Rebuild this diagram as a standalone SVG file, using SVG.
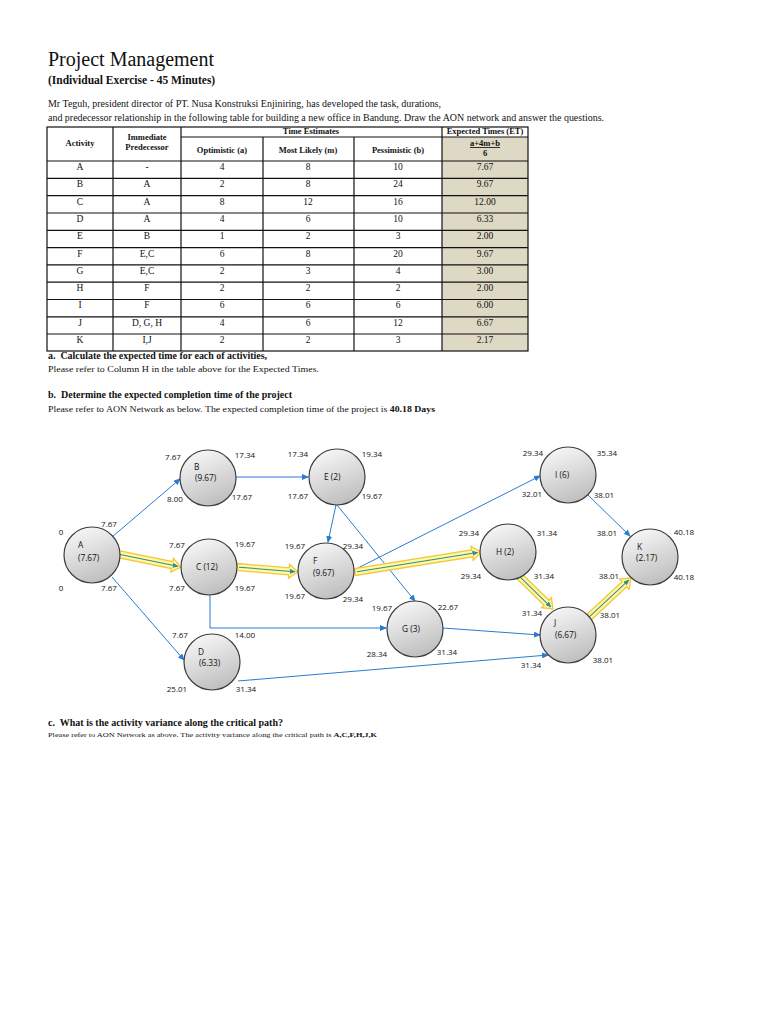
<svg xmlns="http://www.w3.org/2000/svg" width="768" height="1024" viewBox="0 0 768 1024">
<style>
.serif{font-family:"Liberation Serif","Times New Roman",serif;fill:#111}
.b{font-weight:bold}
.hd{font-family:"Liberation Serif",serif;font-size:8.5px;font-weight:bold;fill:#111;text-anchor:middle}
.td{font-family:"Liberation Serif",serif;font-size:9.5px;fill:#111;text-anchor:middle}
.grid{stroke:#111;stroke-width:1.2;fill:none}
.num{font-family:"Open Sans","Liberation Sans",sans-serif;font-size:8px;fill:#111;text-anchor:middle}
.lbl{font-family:"Open Sans","Liberation Sans",sans-serif;font-size:8.3px;fill:#111}
.node{fill:url(#ng);stroke:#3c3c3c;stroke-width:1.2}
.con{stroke:#2a7bd2;stroke-width:1;fill:none;marker-end:url(#ab)}
.blk{fill:#fff8a6;stroke:#f2c73a;stroke-width:1.3}
.tl{stroke:#2f8f86;stroke-width:1;fill:none;marker-end:url(#at)}
</style>
<defs>
<linearGradient id="ng" x1="0.3" y1="0" x2="0.7" y2="1">
<stop offset="0" stop-color="#f7f7f7"/>
<stop offset="1" stop-color="#bcbcbc"/>
</linearGradient>
<marker id="ab" markerWidth="7" markerHeight="6" refX="6" refY="3" orient="auto" markerUnits="userSpaceOnUse">
<path d="M0,0 L7,3 L0,6 Z" fill="#2a7bd2"/>
</marker>
<marker id="at" markerWidth="6" markerHeight="5" refX="5" refY="2.5" orient="auto" markerUnits="userSpaceOnUse">
<path d="M0,0 L6,2.5 L0,5 Z" fill="#2f8f86"/>
</marker>
</defs>
<rect width="768" height="1024" fill="#fff"/>

<text class="serif" x="48" y="66" font-size="20">Project Management</text>
<text class="serif b" x="48" y="84" font-size="11.5">(Individual Exercise - 45 Minutes)</text>
<text class="serif" x="48" y="107" font-size="9.5" textLength="393" lengthAdjust="spacingAndGlyphs">Mr Teguh, president director of PT. Nusa Konstruksi Enjiniring, has developed the task, durations,</text>
<text class="serif" x="48" y="121" font-size="9.5" textLength="556" lengthAdjust="spacingAndGlyphs">and predecessor relationship in the following table for building a new office in Bandung. Draw the AON network and answer the questions.</text>

<g id="table">
<rect x="442" y="137" width="86" height="214" fill="#ddd9c4"/>
<rect x="47" y="127" width="481" height="224" class="grid"/>
<line class="grid" x1="181" y1="137" x2="528" y2="137"/>
<line class="grid" x1="47" y1="161" x2="528" y2="161"/>
<line class="grid" x1="47" y1="178.3" x2="528" y2="178.3"/>
<line class="grid" x1="47" y1="195.6" x2="528" y2="195.6"/>
<line class="grid" x1="47" y1="213" x2="528" y2="213"/>
<line class="grid" x1="47" y1="230.3" x2="528" y2="230.3"/>
<line class="grid" x1="47" y1="247.6" x2="528" y2="247.6"/>
<line class="grid" x1="47" y1="264.9" x2="528" y2="264.9"/>
<line class="grid" x1="47" y1="282.2" x2="528" y2="282.2"/>
<line class="grid" x1="47" y1="299.5" x2="528" y2="299.5"/>
<line class="grid" x1="47" y1="316.8" x2="528" y2="316.8"/>
<line class="grid" x1="47" y1="334" x2="528" y2="334"/>
<line class="grid" x1="113" y1="127" x2="113" y2="351"/>
<line class="grid" x1="181" y1="127" x2="181" y2="351"/>
<line class="grid" x1="263" y1="137" x2="263" y2="351"/>
<line class="grid" x1="354" y1="137" x2="354" y2="351"/>
<line class="grid" x1="442" y1="127" x2="442" y2="351"/>
<text class="hd" x="80" y="146">Activity</text>
<text class="hd" x="147" y="140">Immediate</text>
<text class="hd" x="147" y="150">Predecessor</text>
<text class="hd" x="311" y="134">Time Estimates</text>
<text class="hd" x="485" y="134">Expected Times (ET)</text>
<text class="hd" x="485" y="146" text-decoration="underline">a+4m+b</text>
<text class="hd" x="485" y="156">6</text>
<text class="hd" x="222" y="153">Optimistic (a)</text>
<text class="hd" x="308" y="153">Most Likely (m)</text>
<text class="hd" x="398" y="153">Pessimistic (b)</text>
<g class="rows">
<text class="td" x="80" y="170">A</text><text class="td" x="147" y="170">-</text><text class="td" x="222" y="170">4</text><text class="td" x="308" y="170">8</text><text class="td" x="398" y="170">10</text><text class="td" x="485" y="170">7.67</text>
<text class="td" x="80" y="187.3">B</text><text class="td" x="147" y="187.3">A</text><text class="td" x="222" y="187.3">2</text><text class="td" x="308" y="187.3">8</text><text class="td" x="398" y="187.3">24</text><text class="td" x="485" y="187.3">9.67</text>
<text class="td" x="80" y="204.6">C</text><text class="td" x="147" y="204.6">A</text><text class="td" x="222" y="204.6">8</text><text class="td" x="308" y="204.6">12</text><text class="td" x="398" y="204.6">16</text><text class="td" x="485" y="204.6">12.00</text>
<text class="td" x="80" y="221.9">D</text><text class="td" x="147" y="221.9">A</text><text class="td" x="222" y="221.9">4</text><text class="td" x="308" y="221.9">6</text><text class="td" x="398" y="221.9">10</text><text class="td" x="485" y="221.9">6.33</text>
<text class="td" x="80" y="239.2">E</text><text class="td" x="147" y="239.2">B</text><text class="td" x="222" y="239.2">1</text><text class="td" x="308" y="239.2">2</text><text class="td" x="398" y="239.2">3</text><text class="td" x="485" y="239.2">2.00</text>
<text class="td" x="80" y="256.5">F</text><text class="td" x="147" y="256.5">E,C</text><text class="td" x="222" y="256.5">6</text><text class="td" x="308" y="256.5">8</text><text class="td" x="398" y="256.5">20</text><text class="td" x="485" y="256.5">9.67</text>
<text class="td" x="80" y="273.8">G</text><text class="td" x="147" y="273.8">E,C</text><text class="td" x="222" y="273.8">2</text><text class="td" x="308" y="273.8">3</text><text class="td" x="398" y="273.8">4</text><text class="td" x="485" y="273.8">3.00</text>
<text class="td" x="80" y="291.1">H</text><text class="td" x="147" y="291.1">F</text><text class="td" x="222" y="291.1">2</text><text class="td" x="308" y="291.1">2</text><text class="td" x="398" y="291.1">2</text><text class="td" x="485" y="291.1">2.00</text>
<text class="td" x="80" y="308.4">I</text><text class="td" x="147" y="308.4">F</text><text class="td" x="222" y="308.4">6</text><text class="td" x="308" y="308.4">6</text><text class="td" x="398" y="308.4">6</text><text class="td" x="485" y="308.4">6.00</text>
<text class="td" x="80" y="325.7">J</text><text class="td" x="147" y="325.7">D, G, H</text><text class="td" x="222" y="325.7">4</text><text class="td" x="308" y="325.7">6</text><text class="td" x="398" y="325.7">12</text><text class="td" x="485" y="325.7">6.67</text>
<text class="td" x="80" y="343">K</text><text class="td" x="147" y="343">I,J</text><text class="td" x="222" y="343">2</text><text class="td" x="308" y="343">2</text><text class="td" x="398" y="343">3</text><text class="td" x="485" y="343">2.17</text>
</g>
</g>

<text class="serif b" x="48" y="359" font-size="9.5" xml:space="preserve" textLength="219" lengthAdjust="spacingAndGlyphs">a.  Calculate the expected time for each of activities,</text>
<text class="serif" x="48" y="372" font-size="9" textLength="271" lengthAdjust="spacingAndGlyphs">Please refer to Column H in the table above for the Expected Times.</text>
<text class="serif b" x="48" y="398" font-size="9.5" xml:space="preserve" textLength="244" lengthAdjust="spacingAndGlyphs">b.  Determine the expected completion time of the project</text>
<text class="serif" x="48" y="412" font-size="9" textLength="387" lengthAdjust="spacingAndGlyphs">Please refer to AON Network as below. The expected completion time of the project is <tspan class="b">40.18 Days</tspan></text>

<g id="connectors">
<path class="con" d="M112,537 L180,479"/>
<path class="con" d="M236,477 L308,477"/>
<path class="con" d="M112,577 L184,660"/>
<path class="con" d="M210,595 V628 H386"/>
<path class="con" d="M336,505 L328,542"/>
<path class="con" d="M337,505 L415,601"/>
<path class="con" d="M356,569 L540,476"/>
<path class="con" d="M588,495 L630,536"/>
<path class="con" d="M443,628 L540,635"/>
<path class="con" d="M238,681 L548,655"/>
<g transform="translate(118,554) rotate(11.66)"><path class="blk" d="M0,-3.5 H55.3 V-7 L64.3,0 L55.3,7 V3.5 H0 Z"/><path class="tl" d="M2,0 H61"/></g>
<g transform="translate(237,567) rotate(4.69)"><path class="blk" d="M0,-3.5 H52.2 V-7 L61.2,0 L52.2,7 V3.5 H0 Z"/><path class="tl" d="M2,0 H58"/></g>
<g transform="translate(355,572) rotate(-9.02)"><path class="blk" d="M0,-3.5 H118.6 V-7 L127.6,0 L118.6,7 V3.5 H0 Z"/><path class="tl" d="M2,0 H124"/></g>
<g transform="translate(517,574) rotate(44.2)"><path class="blk" d="M0,-3.5 H41.2 V-7 L50.2,0 L41.2,7 V3.5 H0 Z"/><path class="tl" d="M2,0 H47"/></g>
<g transform="translate(587,619) rotate(-42.98)"><path class="blk" d="M0,-3.5 H51.1 V-7 L60.1,0 L51.1,7 V3.5 H0 Z"/><path class="tl" d="M2,0 H57"/></g>
</g>

<g id="node-A"><circle class="node" cx="92" cy="555" r="28"/><text class="lbl" x="78" y="548">A</text><text class="lbl" x="78" y="561">(7.67)</text>
<text class="num" x="61" y="535">0</text><text class="num" x="109" y="527">7.67</text><text class="num" x="61" y="591">0</text><text class="num" x="109" y="591">7.67</text></g>
<g id="node-B"><circle class="node" cx="208" cy="478" r="28"/><text class="lbl" x="194" y="470">B</text><text class="lbl" x="195" y="481">(9.67)</text>
<text class="num" x="173" y="460">7.67</text><text class="num" x="245" y="458">17.34</text><text class="num" x="175" y="502">8.00</text><text class="num" x="242" y="500">17.67</text></g>
<g id="node-C"><circle class="node" cx="209" cy="567" r="28"/><text class="lbl" x="196" y="570">C (12)</text>
<text class="num" x="177" y="548">7.67</text><text class="num" x="245" y="547">19.67</text><text class="num" x="177" y="591">7.67</text><text class="num" x="245" y="591">19.67</text></g>
<g id="node-D"><circle class="node" cx="212" cy="662" r="28"/><text class="lbl" x="198" y="655">D</text><text class="lbl" x="199" y="666">(6.33)</text>
<text class="num" x="180" y="638">7.67</text><text class="num" x="245" y="638">14.00</text><text class="num" x="177" y="692">25.01</text><text class="num" x="246" y="692">31.34</text></g>
<g id="node-E"><circle class="node" cx="337" cy="477" r="28"/><text class="lbl" x="324" y="480">E (2)</text>
<text class="num" x="298" y="457">17.34</text><text class="num" x="372" y="457">19.34</text><text class="num" x="298" y="499">17.67</text><text class="num" x="372" y="499">19.67</text></g>
<g id="node-F"><circle class="node" cx="326" cy="571" r="28"/><text class="lbl" x="313" y="564">F</text><text class="lbl" x="313" y="576">(9.67)</text>
<text class="num" x="295" y="549">19.67</text><text class="num" x="353" y="549">29.34</text><text class="num" x="295" y="599">19.67</text><text class="num" x="353" y="602">29.34</text></g>
<g id="node-G"><circle class="node" cx="415" cy="629" r="28"/><text class="lbl" x="402" y="632">G (3)</text>
<text class="num" x="382" y="611">19.67</text><text class="num" x="448" y="610">22.67</text><text class="num" x="377" y="657">28.34</text><text class="num" x="447" y="655">31.34</text></g>
<g id="node-H"><circle class="node" cx="508" cy="552" r="28"/><text class="lbl" x="496" y="555">H (2)</text>
<text class="num" x="469" y="536">29.34</text><text class="num" x="547" y="536">31.34</text><text class="num" x="471" y="579">29.34</text><text class="num" x="544" y="579">31.34</text></g>
<g id="node-I"><circle class="node" cx="568" cy="475" r="28"/><text class="lbl" x="555" y="478">I (6)</text>
<text class="num" x="533" y="456">29.34</text><text class="num" x="607" y="456">35.34</text><text class="num" x="532" y="497">32.01</text><text class="num" x="604" y="498">38.01</text></g>
<g id="node-J"><circle class="node" cx="568" cy="635" r="28"/><text class="lbl" x="554" y="626">J</text><text class="lbl" x="555" y="638">(6.67)</text>
<text class="num" x="532" y="616">31.34</text><text class="num" x="610" y="618">38.01</text><text class="num" x="531" y="668">31.34</text><text class="num" x="603" y="663">38.01</text></g>
<g id="node-K"><circle class="node" cx="650" cy="557" r="28"/><text class="lbl" x="637" y="550">K</text><text class="lbl" x="636" y="561">(2.17)</text>
<text class="num" x="607" y="536">38.01</text><text class="num" x="684" y="535">40.18</text><text class="num" x="609" y="579">38.01</text><text class="num" x="684" y="580">40.18</text></g>

<text class="serif b" x="48" y="726" font-size="9.5" xml:space="preserve" textLength="235" lengthAdjust="spacingAndGlyphs">c.  What is the activity variance along the critical path?</text>
<text class="serif" x="48" y="737" font-size="6.5" textLength="329" lengthAdjust="spacingAndGlyphs">Please refer to AON Network as above. The activity variance along the critical path is <tspan class="b">A,C,F,H,J,K</tspan></text>
</svg>
